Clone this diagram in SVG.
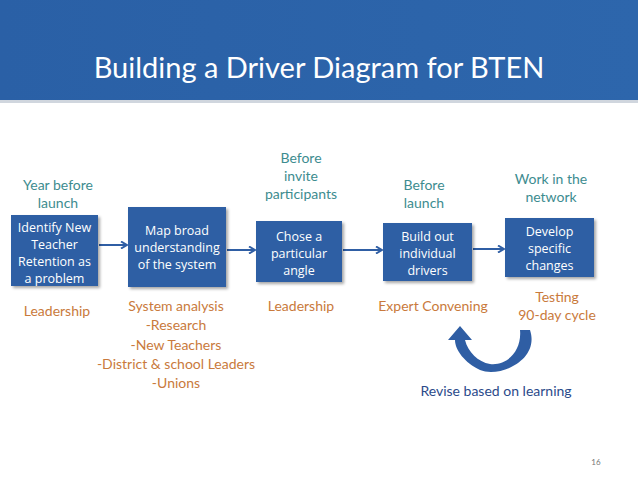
<svg xmlns="http://www.w3.org/2000/svg" width="638" height="478" viewBox="0 0 638 478">
<defs>
<style>
.box{fill:#2f5ea4;filter:url(#sh)}
.bt{font-family:"Open Sans",sans-serif;font-size:12.5px;fill:#fff;text-anchor:middle}
.tl{font-family:"Lato","Liberation Sans",sans-serif;font-size:14px;fill:#3d8c8f;text-anchor:middle}
.or{font-family:"Lato","Liberation Sans",sans-serif;font-size:14px;fill:#c97a3c;text-anchor:middle}
.cn{stroke:#2f5ea4;stroke-width:2;fill:none;marker-end:url(#ah)}
</style>
<filter id="sh" x="-10%" y="-10%" width="130%" height="130%"><feDropShadow dx="2" dy="2" stdDeviation="1.5" flood-color="#000" flood-opacity="0.35"/></filter>
<marker id="ah" markerWidth="8" markerHeight="8" refX="7" refY="4" orient="auto" markerUnits="userSpaceOnUse"><path d="M1,0.5 L7,4 L1,7.5" fill="none" stroke="#2f5ea4" stroke-width="2"/></marker>
<linearGradient id="hd" x1="0" y1="0" x2="1" y2="0"><stop offset="0" stop-color="#2a60a6"/><stop offset="1" stop-color="#2d66ac"/></linearGradient>
</defs>
<rect width="638" height="478" fill="#fff"/>
<rect width="638" height="100" fill="url(#hd)"/>
<rect y="100" width="638" height="3" fill="#d0d6de"/>
<text x="319" y="78" text-anchor="middle" font-family="Lato,'Liberation Sans',sans-serif" font-size="29" fill="#fff">Building a Driver Diagram for BTEN</text>

<g id="connectors">
<line class="cn" x1="99" y1="245" x2="127" y2="245"/>
<line class="cn" x1="227" y1="250" x2="255" y2="250"/>
<line class="cn" x1="343" y1="250" x2="382" y2="250"/>
<line class="cn" x1="473" y1="249" x2="504" y2="249"/>
<path id="loop" d="M530,330 C540,360 500,378 480,370 C465,363 455,350 455,340 L448,340 L460,326 L472,340 L465,340 C468,352 478,362 490,364 C508,366 522,350 520,330 Z" fill="#2f5ea4"/>
</g>

<g id="n1"><rect class="box" x="11" y="215" width="87" height="71"/>
<text class="bt" x="54.5" y="232">Identify New</text><text class="bt" x="54.5" y="249">Teacher</text><text class="bt" x="54.5" y="266">Retention as</text><text class="bt" x="54.5" y="283">a problem</text></g>
<g id="n2"><rect class="box" x="128" y="207" width="98" height="80"/>
<text class="bt" x="177" y="235">Map broad</text><text class="bt" x="177" y="252">understanding</text><text class="bt" x="177" y="269">of the system</text></g>
<g id="n3"><rect class="box" x="256" y="221" width="86" height="61"/>
<text class="bt" x="299" y="241">Chose a</text><text class="bt" x="299" y="258">particular</text><text class="bt" x="299" y="275">angle</text></g>
<g id="n4"><rect class="box" x="383" y="223" width="89" height="58"/>
<text class="bt" x="427.5" y="241">Build out</text><text class="bt" x="427.5" y="258">individual</text><text class="bt" x="427.5" y="275">drivers</text></g>
<g id="n5"><rect class="box" x="505" y="218" width="89" height="59"/>
<text class="bt" x="549.5" y="236">Develop</text><text class="bt" x="549.5" y="253">specific</text><text class="bt" x="549.5" y="270">changes</text></g>

<g id="labels">
<text class="tl" x="58" y="190">Year before</text><text class="tl" x="58" y="208">launch</text>
<text class="tl" x="301" y="163">Before</text><text class="tl" x="301" y="181">invite</text><text class="tl" x="301" y="199">participants</text>
<text class="tl" x="424" y="190">Before</text><text class="tl" x="424" y="208">launch</text>
<text class="tl" x="551" y="184">Work in the</text><text class="tl" x="551" y="202">network</text>
<text class="or" x="57" y="316">Leadership</text>
<text class="or" x="176" y="311">System analysis</text><text class="or" x="176" y="330">-Research</text><text class="or" x="176" y="350">-New Teachers</text><text class="or" x="176" y="369">-District &amp; school Leaders</text><text class="or" x="176" y="388">-Unions</text>
<text class="or" x="301" y="311">Leadership</text>
<text class="or" x="433" y="311">Expert Convening</text>
<text class="or" x="557" y="302">Testing</text><text class="or" x="557" y="320">90-day cycle</text>
<text x="496" y="396" text-anchor="middle" font-family="Lato,'Liberation Sans',sans-serif" font-size="14" fill="#2b4a8a">Revise based on learning</text>
<text x="596" y="465" text-anchor="middle" font-family="Lato,'Liberation Sans',sans-serif" font-size="8" fill="#777">16</text>
</g>
</svg>
